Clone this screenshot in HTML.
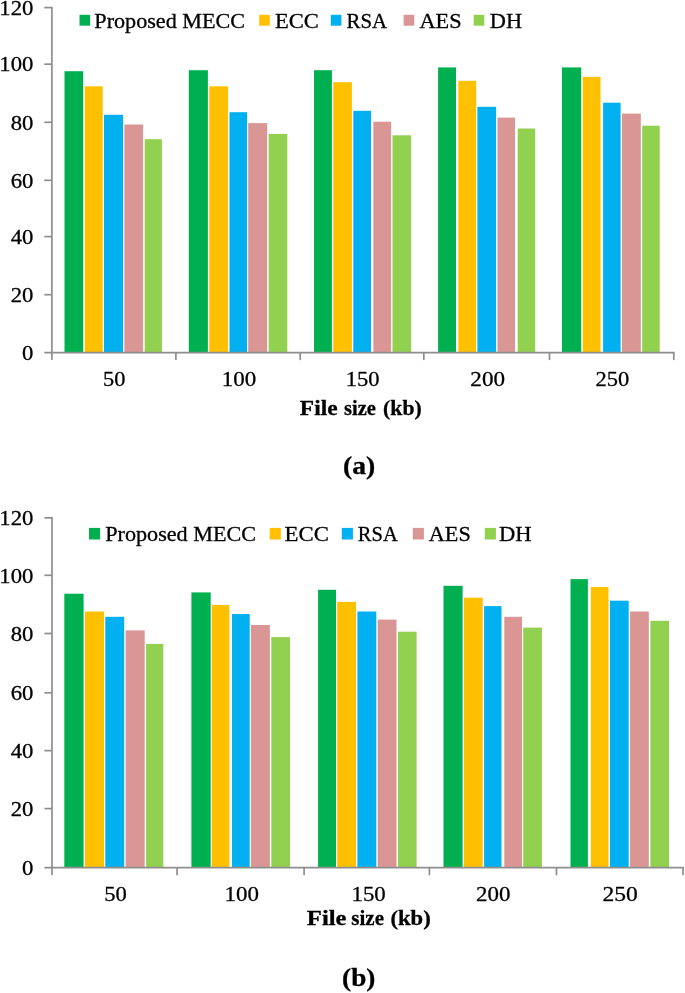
<!DOCTYPE html>
<html><head><meta charset="utf-8"><title>Figure</title>
<style>
html,body{margin:0;padding:0;background:#fff;}
body{width:685px;height:993px;overflow:hidden;}
svg{display:block;font-family:"Liberation Serif",serif;}
text{stroke:#000;stroke-width:0.3px;}
</style></head>
<body>
<svg width="685" height="993" viewBox="0 0 685 993">
<rect width="685" height="993" fill="#ffffff"/>
<g fill="#000">
<rect x="64.50" y="71.20" width="18.70" height="281.40" fill="#00B050"/>
<rect x="84.80" y="86.30" width="17.90" height="266.30" fill="#FFC000"/>
<rect x="103.90" y="114.80" width="19.10" height="237.80" fill="#00B0F0"/>
<rect x="124.40" y="124.50" width="18.70" height="228.10" fill="#D99694"/>
<rect x="144.70" y="139.20" width="17.20" height="213.40" fill="#92D050"/>
<rect x="188.80" y="70.20" width="19.10" height="282.40" fill="#00B050"/>
<rect x="209.30" y="86.30" width="18.80" height="266.30" fill="#FFC000"/>
<rect x="229.50" y="112.20" width="17.50" height="240.40" fill="#00B0F0"/>
<rect x="248.20" y="123.10" width="19.00" height="229.50" fill="#D99694"/>
<rect x="268.70" y="133.90" width="18.60" height="218.70" fill="#92D050"/>
<rect x="314.00" y="70.20" width="17.90" height="282.40" fill="#00B050"/>
<rect x="333.30" y="82.20" width="18.60" height="270.40" fill="#FFC000"/>
<rect x="353.30" y="110.80" width="17.70" height="241.80" fill="#00B0F0"/>
<rect x="373.40" y="121.70" width="17.70" height="230.90" fill="#D99694"/>
<rect x="392.50" y="135.30" width="18.70" height="217.30" fill="#92D050"/>
<rect x="438.10" y="67.40" width="17.90" height="285.20" fill="#00B050"/>
<rect x="458.30" y="80.80" width="17.90" height="271.80" fill="#FFC000"/>
<rect x="477.40" y="106.80" width="18.70" height="245.80" fill="#00B0F0"/>
<rect x="497.50" y="117.60" width="17.50" height="235.00" fill="#D99694"/>
<rect x="517.70" y="128.50" width="17.50" height="224.10" fill="#92D050"/>
<rect x="561.90" y="67.40" width="19.30" height="285.20" fill="#00B050"/>
<rect x="582.80" y="76.80" width="17.70" height="275.80" fill="#FFC000"/>
<rect x="603.10" y="102.70" width="17.50" height="249.90" fill="#00B0F0"/>
<rect x="622.00" y="113.60" width="18.80" height="239.00" fill="#D99694"/>
<rect x="642.20" y="125.70" width="17.50" height="226.90" fill="#92D050"/>
<g stroke="#8e8e8e" stroke-width="1.7" fill="none">
<line x1="51.9" y1="6.75" x2="51.9" y2="360.1"/>
<line x1="44.3" y1="352.6" x2="674.65" y2="352.6"/>
<line x1="44.3" y1="7.60" x2="51.9" y2="7.60"/>
<line x1="44.3" y1="64.20" x2="51.9" y2="64.20"/>
<line x1="44.3" y1="122.30" x2="51.9" y2="122.30"/>
<line x1="44.3" y1="180.30" x2="51.9" y2="180.30"/>
<line x1="44.3" y1="236.60" x2="51.9" y2="236.60"/>
<line x1="44.3" y1="294.70" x2="51.9" y2="294.70"/>
<line x1="175.90" y1="352.6" x2="175.90" y2="360.1"/>
<line x1="300.20" y1="352.6" x2="300.20" y2="360.1"/>
<line x1="423.80" y1="352.6" x2="423.80" y2="360.1"/>
<line x1="549.50" y1="352.6" x2="549.50" y2="360.1"/>
<line x1="673.80" y1="352.6" x2="673.80" y2="360.1"/>
</g>
<text transform="translate(-0.68,14.80) scale(1.0650,1)" font-size="21.3">120</text>
<text transform="translate(-0.68,71.40) scale(1.0650,1)" font-size="21.3">100</text>
<text transform="translate(10.67,129.50) scale(1.0650,1)" font-size="21.3">80</text>
<text transform="translate(10.67,187.50) scale(1.0650,1)" font-size="21.3">60</text>
<text transform="translate(10.67,243.80) scale(1.0650,1)" font-size="21.3">40</text>
<text transform="translate(10.67,301.90) scale(1.0650,1)" font-size="21.3">20</text>
<text transform="translate(22.01,359.80) scale(1.0650,1)" font-size="21.3">0</text>
<text transform="translate(103.12,385.50) scale(1.0479,1)" font-size="21.3">50</text>
<text transform="translate(221.79,385.50) scale(1.0790,1)" font-size="21.3">100</text>
<text transform="translate(345.73,385.50) scale(1.0585,1)" font-size="21.3">150</text>
<text transform="translate(470.36,385.50) scale(1.0864,1)" font-size="21.3">200</text>
<text transform="translate(595.49,385.50) scale(1.0565,1)" font-size="21.3">250</text>
<rect x="79.5" y="14.8" width="10.6" height="10.9" fill="#00B050"/>
<text transform="translate(94.34,28.10) scale(1.0406,1)" font-size="21.3">Proposed MECC</text>
<rect x="259.2" y="14.8" width="10.6" height="10.9" fill="#FFC000"/>
<text transform="translate(274.92,28.10) scale(1.0601,1)" font-size="21.3">ECC</text>
<rect x="330.8" y="14.8" width="10.6" height="10.9" fill="#00B0F0"/>
<text transform="translate(346.57,28.10) scale(0.9796,1)" font-size="21.3">RSA</text>
<rect x="403.6" y="14.8" width="10.6" height="10.9" fill="#D99694"/>
<text transform="translate(419.48,28.10) scale(1.0462,1)" font-size="21.3">AES</text>
<rect x="473.7" y="14.8" width="10.6" height="10.9" fill="#92D050"/>
<text transform="translate(489.83,28.10) scale(1.0508,1)" font-size="21.3">DH</text>
<text y="414.6" font-size="21.5" font-weight="bold"><tspan x="299.89" textLength="37.71" lengthAdjust="spacingAndGlyphs">File</tspan> <tspan x="344.08" textLength="31.87" lengthAdjust="spacingAndGlyphs">size</tspan> <tspan x="383.13" textLength="38.51" lengthAdjust="spacingAndGlyphs">(kb)</tspan></text>
<text transform="translate(342.96,473.80) scale(1.0975,1)" font-size="25.2" font-weight="bold">(a)</text>
<rect x="64.30" y="593.70" width="19.30" height="274.00" fill="#00B050"/>
<rect x="85.00" y="611.50" width="19.10" height="256.20" fill="#FFC000"/>
<rect x="105.30" y="616.80" width="18.90" height="250.90" fill="#00B0F0"/>
<rect x="125.60" y="630.40" width="19.10" height="237.30" fill="#D99694"/>
<rect x="146.10" y="643.90" width="17.20" height="223.80" fill="#92D050"/>
<rect x="191.40" y="592.40" width="19.30" height="275.30" fill="#00B050"/>
<rect x="211.90" y="604.90" width="17.50" height="262.80" fill="#FFC000"/>
<rect x="232.00" y="614.00" width="17.70" height="253.70" fill="#00B0F0"/>
<rect x="251.00" y="625.00" width="18.90" height="242.70" fill="#D99694"/>
<rect x="271.30" y="637.10" width="18.70" height="230.60" fill="#92D050"/>
<rect x="318.10" y="589.80" width="17.90" height="277.90" fill="#00B050"/>
<rect x="337.20" y="601.90" width="18.80" height="265.80" fill="#FFC000"/>
<rect x="357.40" y="611.50" width="18.90" height="256.20" fill="#00B0F0"/>
<rect x="377.70" y="619.60" width="18.80" height="248.10" fill="#D99694"/>
<rect x="398.00" y="631.70" width="18.60" height="236.00" fill="#92D050"/>
<rect x="443.50" y="585.80" width="19.10" height="281.90" fill="#00B050"/>
<rect x="464.00" y="597.70" width="18.70" height="270.00" fill="#FFC000"/>
<rect x="484.10" y="606.10" width="17.40" height="261.60" fill="#00B0F0"/>
<rect x="504.30" y="616.80" width="17.70" height="250.90" fill="#D99694"/>
<rect x="523.20" y="627.60" width="18.70" height="240.10" fill="#92D050"/>
<rect x="570.50" y="579.10" width="17.40" height="288.60" fill="#00B050"/>
<rect x="590.80" y="587.00" width="17.70" height="280.70" fill="#FFC000"/>
<rect x="609.90" y="600.70" width="18.80" height="267.00" fill="#00B0F0"/>
<rect x="630.10" y="611.50" width="18.70" height="256.20" fill="#D99694"/>
<rect x="650.40" y="620.80" width="18.60" height="246.90" fill="#92D050"/>
<g stroke="#8e8e8e" stroke-width="1.7" fill="none">
<line x1="52" y1="517.05" x2="52" y2="875.2"/>
<line x1="44.4" y1="867.7" x2="683.85" y2="867.7"/>
<line x1="44.4" y1="517.90" x2="52" y2="517.90"/>
<line x1="44.4" y1="575.30" x2="52" y2="575.30"/>
<line x1="44.4" y1="633.50" x2="52" y2="633.50"/>
<line x1="44.4" y1="692.80" x2="52" y2="692.80"/>
<line x1="44.4" y1="750.65" x2="52" y2="750.65"/>
<line x1="44.4" y1="808.60" x2="52" y2="808.60"/>
<line x1="177.10" y1="867.7" x2="177.10" y2="875.2"/>
<line x1="304.10" y1="867.7" x2="304.10" y2="875.2"/>
<line x1="429.40" y1="867.7" x2="429.40" y2="875.2"/>
<line x1="556.50" y1="867.7" x2="556.50" y2="875.2"/>
<line x1="683.00" y1="867.7" x2="683.00" y2="875.2"/>
</g>
<text transform="translate(-0.68,525.10) scale(1.0650,1)" font-size="21.3">120</text>
<text transform="translate(-0.68,582.50) scale(1.0650,1)" font-size="21.3">100</text>
<text transform="translate(10.67,640.70) scale(1.0650,1)" font-size="21.3">80</text>
<text transform="translate(10.67,700.00) scale(1.0650,1)" font-size="21.3">60</text>
<text transform="translate(10.67,757.85) scale(1.0650,1)" font-size="21.3">40</text>
<text transform="translate(10.67,815.80) scale(1.0650,1)" font-size="21.3">20</text>
<text transform="translate(22.01,874.90) scale(1.0650,1)" font-size="21.3">0</text>
<text transform="translate(104.30,900.70) scale(1.0635,1)" font-size="21.3">50</text>
<text transform="translate(224.49,900.70) scale(1.0790,1)" font-size="21.3">100</text>
<text transform="translate(351.50,900.70) scale(1.0721,1)" font-size="21.3">150</text>
<text transform="translate(475.97,900.70) scale(1.0764,1)" font-size="21.3">200</text>
<text transform="translate(602.54,900.70) scale(1.1062,1)" font-size="21.3">250</text>
<rect x="89.0" y="527.9" width="11.1" height="11.6" fill="#00B050"/>
<text transform="translate(105.24,541.00) scale(1.0406,1)" font-size="21.3">Proposed MECC</text>
<rect x="269.7" y="527.9" width="11.1" height="11.6" fill="#FFC000"/>
<text transform="translate(284.52,541.00) scale(1.0702,1)" font-size="21.3">ECC</text>
<rect x="341.8" y="527.9" width="11.1" height="11.6" fill="#00B0F0"/>
<text transform="translate(357.78,541.00) scale(0.9648,1)" font-size="21.3">RSA</text>
<rect x="412.8" y="527.9" width="11.1" height="11.6" fill="#D99694"/>
<text transform="translate(428.78,541.00) scale(1.0436,1)" font-size="21.3">AES</text>
<rect x="484.8" y="527.9" width="11.1" height="11.6" fill="#92D050"/>
<text transform="translate(499.02,541.00) scale(1.0610,1)" font-size="21.3">DH</text>
<text y="924.9" font-size="21.5" font-weight="bold"><tspan x="306.87" textLength="39.66" lengthAdjust="spacingAndGlyphs">File</tspan> <tspan x="351.37" textLength="32.60" lengthAdjust="spacingAndGlyphs">size</tspan> <tspan x="390.48" textLength="40.20" lengthAdjust="spacingAndGlyphs">(kb)</tspan></text>
<text transform="translate(342.07,986.00) scale(1.0803,1)" font-size="25.2" font-weight="bold">(b)</text>
</g>
</svg>
</body></html>
